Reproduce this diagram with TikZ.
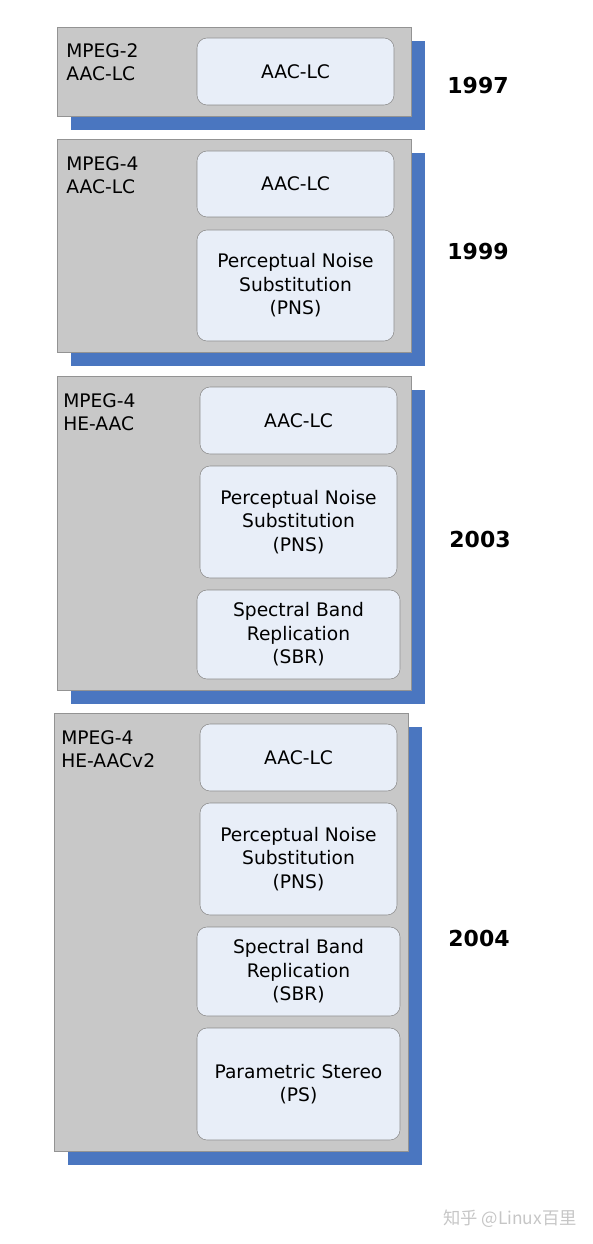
\documentclass[tikz,border=0pt]{standalone}
\usepackage{fontspec}
\setmainfont{DejaVu Sans}
\newfontfamily\cjkfont{Noto Sans CJK SC}
\usetikzlibrary{positioning}
\definecolor{shadeblue}{HTML}{4A76C0}
\definecolor{groupgray}{HTML}{C8C8C8}
\definecolor{partfill}{HTML}{E8EEF8}

\begin{document}
\begin{tikzpicture}[x=0.75pt, y=-0.75pt,
        group/.style={fill=groupgray, draw=gray!85, line width=0.6pt},
        shadow/.style={fill=shadeblue},
        part/.style={draw=gray!90, fill=partfill, rounded corners=7.5pt,
                     align=center, inner sep=0pt, minimum width=147.75pt,
                     font=\fontsize{14}{17.6}\selectfont},
        wide/.style={minimum width=152.25pt},
        title/.style={anchor=north west, align=left, inner sep=0pt,
                      font=\fontsize{14}{17.6}\selectfont},
        year/.style={font=\fontsize{16.5}{20}\selectfont\bfseries}]

        \useasboundingbox (0,0) rectangle (592,1244);

        % Boxes for 1997
        \fill[shadow] (71,41) rectangle (425,130);
        \draw[group] (57,27) rectangle (411,116);
        \node[title] (t1) at (66,43) {MPEG-2\\AAC-LC};
        \node[part, minimum height=50.25pt] (a1) at (295.5,71.5) {AAC-LC};
        \node[year] (y1) at (478,86) {1997};

        % Boxes for 1999
        \fill[shadow] (71,153) rectangle (425,366);
        \draw[group] (57,139) rectangle (411,352);
        \node[title] (t2) at (66,156) {MPEG-4\\AAC-LC};
        \node[part, minimum height=49.5pt] (a2) at (295.5,184) {AAC-LC};
        \node[part, minimum height=83.25pt] (p2) at (295.5,285.5) {Perceptual Noise\\Substitution\\(PNS)};
        \node[year] (y2) at (478,252) {1999};

        % Boxes for 2003
        \fill[shadow] (71,390) rectangle (425,704);
        \draw[group] (57,376) rectangle (411,690);
        \node[title] (t3) at (63,393) {MPEG-4\\HE-AAC};
        \node[part, minimum height=50.25pt] (a3) at (298.5,420.5) {AAC-LC};
        \node[part, minimum height=84pt] (p3) at (298.5,522) {Perceptual Noise\\Substitution\\(PNS)};
        \node[part, wide, minimum height=66.75pt] (s3) at (298.5,634.5) {Spectral Band\\Replication\\(SBR)};
        \node[year] (y3) at (480,539) {2003};

        % Boxes for 2004
        \fill[shadow] (68,727) rectangle (422,1165);
        \draw[group] (54,713) rectangle (408,1151);
        \node[title] (t4) at (61,730) {MPEG-4\\HE-AACv2};
        \node[part, minimum height=50.25pt] (a4) at (298.5,757.5) {AAC-LC};
        \node[part, minimum height=84pt] (p4) at (298.5,859) {Perceptual Noise\\Substitution\\(PNS)};
        \node[part, wide, minimum height=66.75pt] (s4) at (298.5,971.5) {Spectral Band\\Replication\\(SBR)};
        \node[part, wide, minimum height=84pt] (ps4) at (298.5,1084) {Parametric Stereo\\(PS)};
        \node[year] (y4) at (479,938) {2004};

        % Watermark
        \node[text=gray!45, font=\cjkfont\fontsize{13}{15}\selectfont] (wm) at (510,1219) {知乎 @Linux百里};

\end{tikzpicture}
\end{document}
